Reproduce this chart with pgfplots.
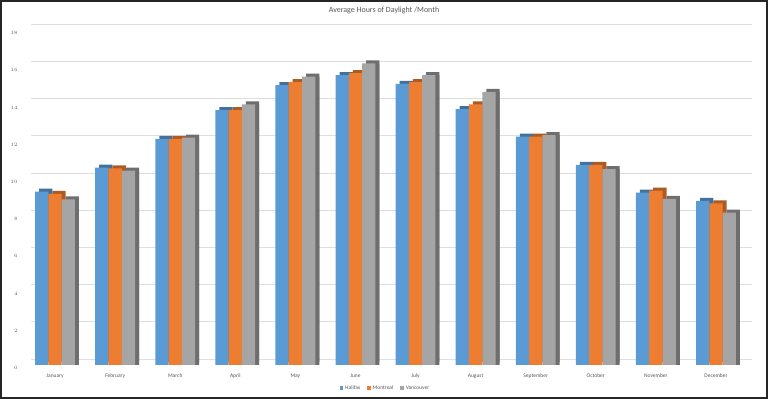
\documentclass[border=0pt]{standalone}
\usepackage{fontspec}
\setmainfont{Carlito}
\usepackage{pgfplots}
\pgfplotsset{compat=1.18}
\usepackage{pgfplotstable}
\definecolor{cblue}{HTML}{5B9BD5}
\definecolor{corange}{HTML}{ED7D31}
\definecolor{cgray}{HTML}{A5A5A5}
\definecolor{cbluedk}{HTML}{41719C}
\definecolor{corangedk}{HTML}{AE5A21}
\definecolor{cgraydk}{HTML}{6E6E6E}
\definecolor{ctext}{HTML}{595959}
\pgfplotstableread{
idx Halifax Montreal Vancouver
0  9.32  9.19  8.90
1  10.61 10.57 10.45
2  12.15 12.15 12.22
3  13.70 13.70 14.00
4  15.04 15.20 15.50
5  15.57 15.68 16.20
6  15.10 15.20 15.57
7  13.75 14.00 14.68
8  12.27 12.27 12.35
9  10.75 10.75 10.52
10 9.26  9.37  8.92
11 8.82  8.69  8.19
}\daylight
\begin{document}
\begin{tikzpicture}
\useasboundingbox (0,0) rectangle (768bp,399bp);
\begin{axis}[
  at={(25bp,34bp)}, anchor=south west,
  scale only axis, width=721bp, height=335bp,
  xmin=-0.5, xmax=11.5, ymin=0, ymax=18,
  ytick={0,2,...,18},
  xtick={0,...,11},
  xticklabels={January,February,March,April,May,June,July,August,September,October,November,December},
  axis line style={draw=none},
  major tick length=0pt,
  ymajorgrids,
  major grid style={draw=black!13, line width=0.7bp, xshift=6bp, yshift=6bp},
  ybar, bar width=13.3bp,
  yticklabel style={font=\fontsize{5.5}{6.5}\selectfont, text=ctext, xshift=-4bp, yshift=-3bp},
  xticklabel style={font=\fontsize{5.5}{6.5}\selectfont, text=ctext, yshift=-5bp},
  legend style={at={(0.5,-0.0687)}, anchor=center, draw=none, fill=none,
    legend columns=3, font=\fontsize{5.5}{6.5}\selectfont, text=ctext,
    /tikz/every even column/.append style={column sep=5bp}},
  legend image code/.code={\fill[#1] (0bp,-1.7bp) rectangle (3.4bp,1.7bp);},
]
\addplot[fill=cgraydk, draw=none, bar shift=13.3bp, xshift=4bp, forget plot] table[x=idx,y=Vancouver]{\daylight};
\addplot[fill=cgraydk, draw=none, bar shift=13.3bp, xshift=4bp, yshift=3bp, forget plot] table[x=idx,y=Vancouver]{\daylight};
\addplot[fill=corangedk, draw=none, bar shift=0bp, xshift=4bp, yshift=3bp, forget plot] table[x=idx,y=Montreal]{\daylight};
\addplot[fill=cbluedk, draw=none, bar shift=-13.3bp, xshift=4bp, yshift=3bp, forget plot] table[x=idx,y=Halifax]{\daylight};
\addplot[fill=cblue, draw=none, bar shift=-13.3bp] table[x=idx,y=Halifax]{\daylight};
\addplot[fill=corange, draw=none, bar shift=0bp] table[x=idx,y=Montreal]{\daylight};
\addplot[fill=cgray, draw=none, bar shift=13.3bp] table[x=idx,y=Vancouver]{\daylight};
\legend{Halifax,Montreal,Vancouver}
\end{axis}
\node[font=\fontsize{8}{9.6}\selectfont, text=ctext] at (384bp,389bp) {Average Hours of Daylight /Month};
\draw[line width=2bp, black!85] (1bp,1bp) rectangle (767bp,398bp);
\end{tikzpicture}
\end{document}
